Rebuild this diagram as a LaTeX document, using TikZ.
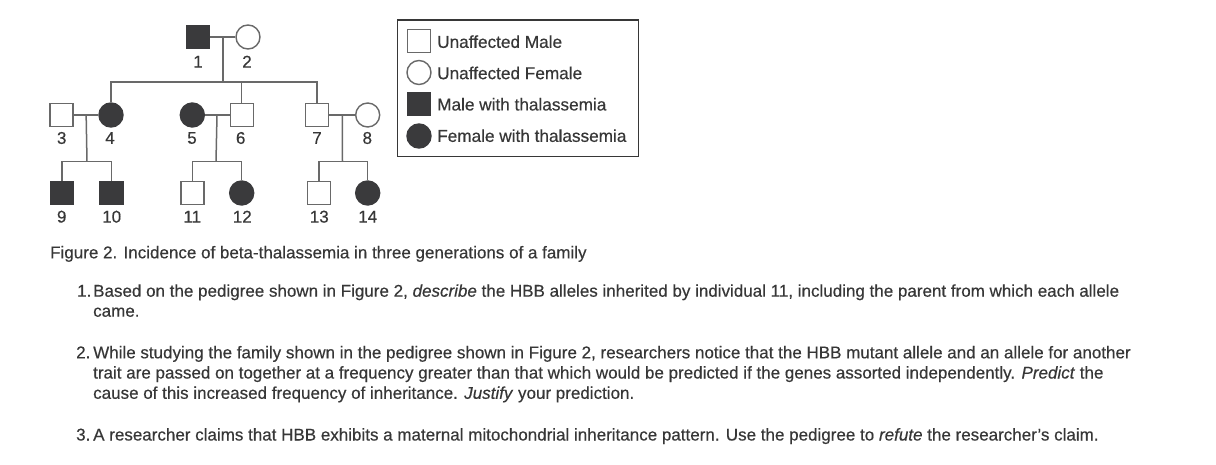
\documentclass[tikz,border=0pt]{standalone}
\usepackage{fontspec}
\setmainfont[FakeBold=0.4]{Liberation Sans}
\usetikzlibrary{calc}
\definecolor{txt}{RGB}{55,55,55}
\definecolor{ln}{RGB}{105,105,105}
\definecolor{aff}{RGB}{58,58,60}
\begin{document}
\begin{tikzpicture}[x=1pt,y=-1pt,
  male/.style={draw=ln,line width=1.4pt,fill=white,minimum size=23pt,inner sep=0pt,rectangle},
  female/.style={draw=ln,line width=1.4pt,fill=white,minimum size=24pt,inner sep=0pt,circle},
  amale/.style={male,fill=aff,draw=aff},
  afemale/.style={female,fill=aff,draw=aff},
  conn/.style={draw=ln,line width=1.5pt},
  lab/.style={text=txt,font=\fontsize{17}{20}\selectfont,inner sep=0pt,anchor=center},
  leg/.style={text=txt,font=\fontsize{17.2}{20}\selectfont,inner sep=0pt,anchor=west},
  body/.style={text=txt,font=\fontsize{17}{20}\selectfont,inner sep=0pt,anchor=base west}]
\useasboundingbox[fill=white] (0,0) rectangle (1216,465);
% generation I
\node[amale] (p1) at (198,37) {};
\node[female] (p2) at (248,37) {};
% generation II
\node[male] (p3) at (61.3,115) {};
\node[afemale] (p4) at (111,115) {};
\node[afemale] (p5) at (192.3,115) {};
\node[male] (p6) at (241.7,115) {};
\node[male] (p7) at (317,115) {};
\node[female] (p8) at (367.7,115) {};
% generation III
\node[amale] (p9) at (62,193) {};
\node[amale] (p10) at (111.3,193) {};
\node[male] (p11) at (192.3,193) {};
\node[afemale] (p12) at (241.7,193) {};
\node[male] (p13) at (319,193) {};
\node[afemale] (p14) at (367.7,193) {};
% couple lines and descents
\coordinate (m1) at ($(p1)!0.5!(p2)$);
\coordinate (s1) at (223,82);
\draw[conn] (p1) -- (p2);
\draw[conn] (m1) -- (s1);
\draw[conn] (p4.north) |- (s1) -| (p7.north);
\draw[conn] (p6.north) -- (p6.north |- s1);
\coordinate (m2) at ($(p3)!0.5!(p4)$);
\coordinate (m3) at ($(p5)!0.5!(p6)$);
\coordinate (m4) at ($(p7)!0.5!(p8)$);
\draw[conn] (p3) -- (p4);
\draw[conn] (p5) -- (p6);
\draw[conn] (p7) -- (p8);
\coordinate (s2) at (87,161.7);
\coordinate (s3) at (216,161.7);
\coordinate (s4) at (342.5,161.7);
\draw[conn] (m2) -- (s2);
\draw[conn] (m3) -- (s3);
\draw[conn] (m4) -- (s4);
\draw[conn] (p9.north) |- (s2) -| (p10.north);
\draw[conn] (p11.north) |- (s3) -| (p12.north);
\draw[conn] (p13.north) |- (s4) -| (p14.north);
% labels
\node[lab] (l1) at (198,61.7) {1};
\node[lab] (l2) at (247,61.7) {2};
\node[lab] (l3) at (61.7,138) {3};
\node[lab] (l4) at (110,138) {4};
\node[lab] (l5) at (192,138) {5};
\node[lab] (l6) at (240.7,138) {6};
\node[lab] (l7) at (317,138) {7};
\node[lab] (l8) at (367.3,138) {8};
\node[lab] (l9) at (61.7,216.7) {9};
\node[lab] (l10) at (111.7,216.7) {10};
\node[lab] (l11) at (192.3,216.7) {11};
\node[lab] (l12) at (242.3,216.7) {12};
\node[lab] (l13) at (319.3,216.7) {13};
\node[lab] (l14) at (367.7,216.7) {14};
% legend
\node[draw=txt,line width=1.2pt,minimum width=241pt,minimum height=136.7pt,inner sep=0pt] (legbox) at (517.8,88.35) {};
\node[male] (k1) at (419,41) {};
\node[female] (k2) at (419,72.5) {};
\node[amale] (k3) at (419,104.3) {};
\node[afemale] (k4) at (419,136) {};
\node[leg] (t1) at (437,41.7) {Unaffected Male};
\node[leg] (t2) at (437,73) {Unaffected Female};
\node[leg] (t3) at (437,104.3) {Male with thalassemia};
\node[leg] (t4) at (437,135.7) {Female with thalassemia};
% caption and questions
\node[body] (cap) at (50,258.3) {Figure 2. Incidence of beta-thalassemia in three generations of a family};
\node[body] (n1) at (77,296.7) {1.};
\node[body] (q1a) at (93,296.7) {Based on the pedigree shown in Figure 2, \textit{describe} the HBB alleles inherited by individual 11, including the parent from which each allele};
\node[body] (q1b) at (93,316.7) {came.};
\node[body] (n2) at (76,358.3) {2.};
\node[body] (q2a) at (93,358.3) {While studying the family shown in the pedigree shown in Figure 2, researchers notice that the HBB mutant allele and an allele for another};
\node[body] (q2b) at (93,378.5) {trait are passed on together at a frequency greater than that which would be predicted if the genes assorted independently. \textit{Predict} the};
\node[body] (q2c) at (93,398.8) {cause of this increased frequency of inheritance. \textit{Justify} your prediction.};
\node[body] (n3) at (76,440.5) {3.};
\node[body] (q3) at (93,440.5) {A researcher claims that HBB exhibits a maternal mitochondrial inheritance pattern. Use the pedigree to \textit{refute} the researcher's claim.};
\end{tikzpicture}
\end{document}
